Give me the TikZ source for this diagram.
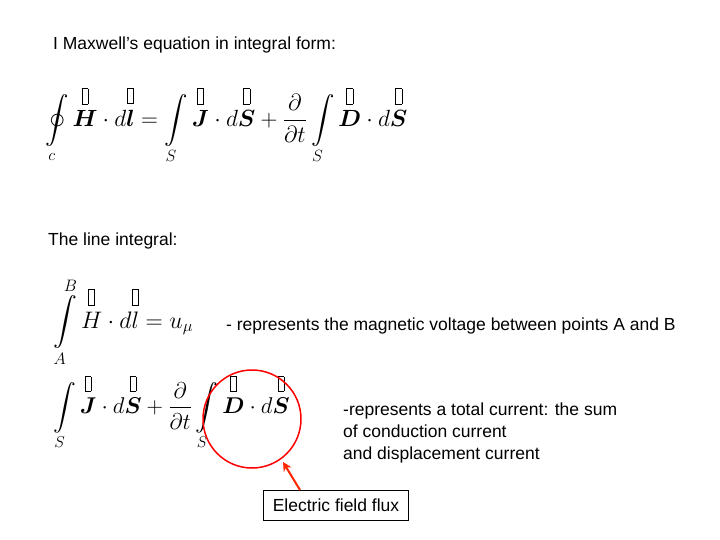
\documentclass[tikz,border=0pt]{standalone}
\usepackage{fontspec}
\usepackage{amsmath,bm}
\usetikzlibrary{shapes.geometric,arrows.meta}
\setmainfont{Liberation Sans}
\newcommand{\vbx}[1]{\overset{\raisebox{2pt}{\setlength{\fboxsep}{0pt}\setlength{\fboxrule}{0.5pt}\fbox{\rule{0pt}{13pt}\hspace{5pt}}}}{#1}}
\tikzset{eq/.style={anchor=west,inner sep=0pt,font=\fontsize{20.74}{26}\selectfont},
 txt/.style={anchor=west,inner sep=0pt,font=\fontsize{17.5}{22}\selectfont,align=left}}
\begin{document}
\begin{tikzpicture}[x=1pt,y=-1pt]
\useasboundingbox (0,0) rectangle (720,540);
\node[txt] (t1) at (53,45) {I Maxwell’s equation in integral form:};
\node[eq] (e1) at (45,125) {\scalebox{1.13}{$\displaystyle\oint\limits_{c}\vbx{\bm{H}}\cdot d\vbx{\bm{l}}=\int\limits_{S}\vbx{\bm{J}}\cdot d\vbx{\bm{S}}+\frac{\partial}{\partial t}\int\limits_{S}\vbx{\bm{D}}\cdot d\vbx{\bm{S}}$}};
\node[txt] (t2) at (48,241) {The line integral:};
\node[eq] (e2) at (53,322) {\scalebox{1.15}{$\displaystyle\int\limits_{A}^{B}\vbx{H}\cdot d\vbx{l}=u_{\mu}$}};
\node[txt] (t3) at (226,326) {- represents the magnetic voltage between points A and B};
\node[eq] (e3) at (53,412) {\scalebox{1.1}{$\displaystyle\int\limits_{S}\vbx{\bm{J}}\cdot d\vbx{\bm{S}}+\frac{\partial}{\partial t}\int\limits_{S}\vbx{\bm{D}}\cdot d\vbx{\bm{S}}$}};
\node[txt] (t4) at (343,433) {-represents a total current: the sum\\of conduction current\\and displacement current};
\node[draw=red,line width=1.5pt,ellipse,minimum width=98pt,minimum height=98pt,inner sep=0pt] (ci) at (252,419) {};
\node[draw,txt,anchor=center,inner sep=4pt,minimum width=145pt,minimum height=30pt] (box) at (336,505) {Electric field flux};
\coordinate (s) at (300,490);
\coordinate (tip) at (283,462);
\draw[red!70!orange,line width=2pt,-{Stealth[length=9pt,width=9pt]}] (s) -- (tip);
\end{tikzpicture}
\end{document}
